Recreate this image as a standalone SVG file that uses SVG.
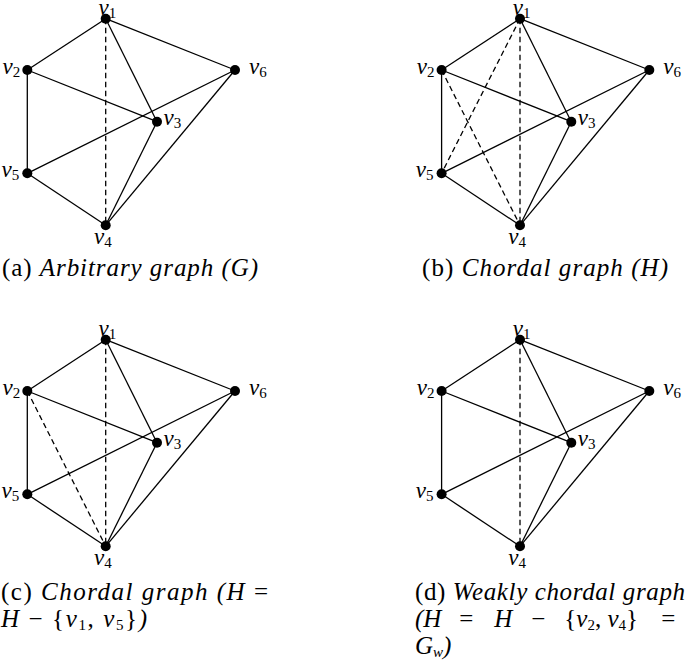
<svg xmlns="http://www.w3.org/2000/svg" width="685" height="669" viewBox="0 0 685 669" font-family="'Liberation Serif','Times New Roman',serif">
<style>
.e{stroke:#000;stroke-width:1.3;fill:none}
.d{stroke:#000;stroke-width:1.3;fill:none;stroke-dasharray:5.5 3.5}
.n{fill:#000}
.l{font-family:"Liberation Serif","Times New Roman",serif;font-size:23px;font-style:italic;fill:#000}
.s{font-style:normal;font-size:15px}
.c{font-family:"Liberation Serif","Times New Roman",serif;font-size:25px;fill:#000}
.i{font-style:italic}
</style>
<rect width="685" height="669" fill="#fff"/>
<!-- Graph (a) -->
<g id="graph-a">
<g id="a-edges">
<line class="e" x1="105.7" y1="18.7" x2="27.3" y2="70"/>
<line class="e" x1="105.7" y1="18.7" x2="235" y2="70"/>
<line class="e" x1="105.7" y1="18.7" x2="157" y2="121.7"/>
<line class="e" x1="27.3" y1="70" x2="157" y2="121.7"/>
<line class="e" x1="27.3" y1="70" x2="27.3" y2="173.3"/>
<line class="e" x1="27.3" y1="173.3" x2="235" y2="70"/>
<line class="e" x1="27.3" y1="173.3" x2="105.7" y2="225.3"/>
<line class="e" x1="157" y1="121.7" x2="105.7" y2="225.3"/>
<line class="e" x1="235" y1="70" x2="105.7" y2="225.3"/>
<line class="d" x1="105.7" y1="18.7" x2="105.7" y2="225.3"/>
</g>
<g id="a-v1"><circle class="n" cx="105.7" cy="18.7" r="5"/><text class="l" x="98.5" y="14.5">v<tspan class="s" dy="3">1</tspan></text></g>
<g id="a-v2"><circle class="n" cx="27.3" cy="70" r="5"/><text class="l" x="2.5" y="73.5">v<tspan class="s" dy="3">2</tspan></text></g>
<g id="a-v3"><circle class="n" cx="157" cy="121.7" r="5"/><text class="l" x="163.5" y="125">v<tspan class="s" dy="3">3</tspan></text></g>
<g id="a-v4"><circle class="n" cx="105.7" cy="225.3" r="5"/><text class="l" x="94" y="244">v<tspan class="s" dy="3">4</tspan></text></g>
<g id="a-v5"><circle class="n" cx="27.3" cy="173.3" r="5"/><text class="l" x="1.5" y="177">v<tspan class="s" dy="3">5</tspan></text></g>
<g id="a-v6"><circle class="n" cx="235" cy="70" r="5"/><text class="l" x="249" y="73.5">v<tspan class="s" dy="3">6</tspan></text></g>
<text id="cap-a" class="c" x="2" y="276" textLength="256" lengthAdjust="spacing">(a) <tspan class="i">Arbitrary graph (G)</tspan></text>
</g>
<!-- Graph (b) -->
<g id="graph-b" transform="translate(414.3,0)">
<g id="b-edges">
<line class="e" x1="105.7" y1="18.7" x2="27.3" y2="70"/>
<line class="e" x1="105.7" y1="18.7" x2="235" y2="70"/>
<line class="e" x1="105.7" y1="18.7" x2="157" y2="121.7"/>
<line class="e" x1="27.3" y1="70" x2="157" y2="121.7"/>
<line class="e" x1="27.3" y1="70" x2="27.3" y2="173.3"/>
<line class="e" x1="27.3" y1="173.3" x2="235" y2="70"/>
<line class="e" x1="27.3" y1="173.3" x2="105.7" y2="225.3"/>
<line class="e" x1="157" y1="121.7" x2="105.7" y2="225.3"/>
<line class="e" x1="235" y1="70" x2="105.7" y2="225.3"/>
<line class="d" x1="105.7" y1="18.7" x2="105.7" y2="225.3"/>
<line class="d" x1="105.7" y1="18.7" x2="27.3" y2="173.3"/>
<line class="d" x1="27.3" y1="70" x2="105.7" y2="225.3"/>
</g>
<g id="b-v1"><circle class="n" cx="105.7" cy="18.7" r="5"/><text class="l" x="98.5" y="14.5">v<tspan class="s" dy="3">1</tspan></text></g>
<g id="b-v2"><circle class="n" cx="27.3" cy="70" r="5"/><text class="l" x="2.5" y="73.5">v<tspan class="s" dy="3">2</tspan></text></g>
<g id="b-v3"><circle class="n" cx="157" cy="121.7" r="5"/><text class="l" x="163.5" y="125">v<tspan class="s" dy="3">3</tspan></text></g>
<g id="b-v4"><circle class="n" cx="105.7" cy="225.3" r="5"/><text class="l" x="94" y="244">v<tspan class="s" dy="3">4</tspan></text></g>
<g id="b-v5"><circle class="n" cx="27.3" cy="173.3" r="5"/><text class="l" x="1.5" y="177">v<tspan class="s" dy="3">5</tspan></text></g>
<g id="b-v6"><circle class="n" cx="235" cy="70" r="5"/><text class="l" x="249" y="73.5">v<tspan class="s" dy="3">6</tspan></text></g>
<text id="cap-b" class="c" x="7.7" y="276" textLength="246" lengthAdjust="spacing">(b) <tspan class="i">Chordal graph (H)</tspan></text>
</g>
<!-- Graph (c) -->
<g id="graph-c" transform="translate(0,321)">
<g id="c-edges">
<line class="e" x1="105.7" y1="18.7" x2="27.3" y2="70"/>
<line class="e" x1="105.7" y1="18.7" x2="235" y2="70"/>
<line class="e" x1="105.7" y1="18.7" x2="157" y2="121.7"/>
<line class="e" x1="27.3" y1="70" x2="157" y2="121.7"/>
<line class="e" x1="27.3" y1="70" x2="27.3" y2="173.3"/>
<line class="e" x1="27.3" y1="173.3" x2="235" y2="70"/>
<line class="e" x1="27.3" y1="173.3" x2="105.7" y2="225.3"/>
<line class="e" x1="157" y1="121.7" x2="105.7" y2="225.3"/>
<line class="e" x1="235" y1="70" x2="105.7" y2="225.3"/>
<line class="d" x1="105.7" y1="18.7" x2="105.7" y2="225.3"/>
<line class="d" x1="27.3" y1="70" x2="105.7" y2="225.3"/>
</g>
<g id="c-v1"><circle class="n" cx="105.7" cy="18.7" r="5"/><text class="l" x="98.5" y="14.5">v<tspan class="s" dy="3">1</tspan></text></g>
<g id="c-v2"><circle class="n" cx="27.3" cy="70" r="5"/><text class="l" x="2.5" y="73.5">v<tspan class="s" dy="3">2</tspan></text></g>
<g id="c-v3"><circle class="n" cx="157" cy="121.7" r="5"/><text class="l" x="163.5" y="125">v<tspan class="s" dy="3">3</tspan></text></g>
<g id="c-v4"><circle class="n" cx="105.7" cy="225.3" r="5"/><text class="l" x="94" y="244">v<tspan class="s" dy="3">4</tspan></text></g>
<g id="c-v5"><circle class="n" cx="27.3" cy="173.3" r="5"/><text class="l" x="1.5" y="177">v<tspan class="s" dy="3">5</tspan></text></g>
<g id="c-v6"><circle class="n" cx="235" cy="70" r="5"/><text class="l" x="249" y="73.5">v<tspan class="s" dy="3">6</tspan></text></g>
<text id="cap-c1" class="c" x="1" y="279" textLength="267" lengthAdjust="spacing">(c) <tspan class="i">Chordal graph (H</tspan> =</text>
<text id="cap-c2" class="c" x="1" y="306" textLength="146" lengthAdjust="spacing"><tspan class="i">H</tspan> − {<tspan class="i">v</tspan><tspan class="s" dy="3">1</tspan><tspan dy="-3">, </tspan><tspan class="i">v</tspan><tspan class="s" dy="3">5</tspan><tspan dy="-3">}</tspan><tspan class="i">)</tspan></text>
</g>
<!-- Graph (d) -->
<g id="graph-d" transform="translate(414.3,321)">
<g id="d-edges">
<line class="e" x1="105.7" y1="18.7" x2="27.3" y2="70"/>
<line class="e" x1="105.7" y1="18.7" x2="235" y2="70"/>
<line class="e" x1="105.7" y1="18.7" x2="157" y2="121.7"/>
<line class="e" x1="27.3" y1="70" x2="157" y2="121.7"/>
<line class="e" x1="27.3" y1="70" x2="27.3" y2="173.3"/>
<line class="e" x1="27.3" y1="173.3" x2="235" y2="70"/>
<line class="e" x1="27.3" y1="173.3" x2="105.7" y2="225.3"/>
<line class="e" x1="157" y1="121.7" x2="105.7" y2="225.3"/>
<line class="e" x1="235" y1="70" x2="105.7" y2="225.3"/>
<line class="d" x1="105.7" y1="18.7" x2="105.7" y2="225.3"/>
</g>
<g id="d-v1"><circle class="n" cx="105.7" cy="18.7" r="5"/><text class="l" x="98.5" y="14.5">v<tspan class="s" dy="3">1</tspan></text></g>
<g id="d-v2"><circle class="n" cx="27.3" cy="70" r="5"/><text class="l" x="2.5" y="73.5">v<tspan class="s" dy="3">2</tspan></text></g>
<g id="d-v3"><circle class="n" cx="157" cy="121.7" r="5"/><text class="l" x="163.5" y="125">v<tspan class="s" dy="3">3</tspan></text></g>
<g id="d-v4"><circle class="n" cx="105.7" cy="225.3" r="5"/><text class="l" x="94" y="244">v<tspan class="s" dy="3">4</tspan></text></g>
<g id="d-v5"><circle class="n" cx="27.3" cy="173.3" r="5"/><text class="l" x="1.5" y="177">v<tspan class="s" dy="3">5</tspan></text></g>
<g id="d-v6"><circle class="n" cx="235" cy="70" r="5"/><text class="l" x="249" y="73.5">v<tspan class="s" dy="3">6</tspan></text></g>
<text id="cap-d1" class="c" x="0.7" y="279" textLength="270" lengthAdjust="spacing">(d) <tspan class="i">Weakly chordal graph</tspan></text>
<g id="cap-d2">
<text class="c i" x="0.7" y="306">(H</text>
<text class="c" x="45" y="306">=</text>
<text class="c i" x="80" y="306">H</text>
<text class="c" x="117" y="306">−</text>
<text class="c" x="150" y="306">{<tspan class="i">v</tspan><tspan class="s" dy="3">2</tspan><tspan dy="-3">, </tspan><tspan class="i">v</tspan><tspan class="s" dy="3">4</tspan><tspan dy="-3">}</tspan></text>
<text class="c" x="247" y="306">=</text>
</g>
<text id="cap-d3" class="c" x="0.7" y="333"><tspan class="i">G</tspan><tspan class="i s" dy="3">w</tspan><tspan class="i" dy="-3">)</tspan></text>
</g>
</svg>
